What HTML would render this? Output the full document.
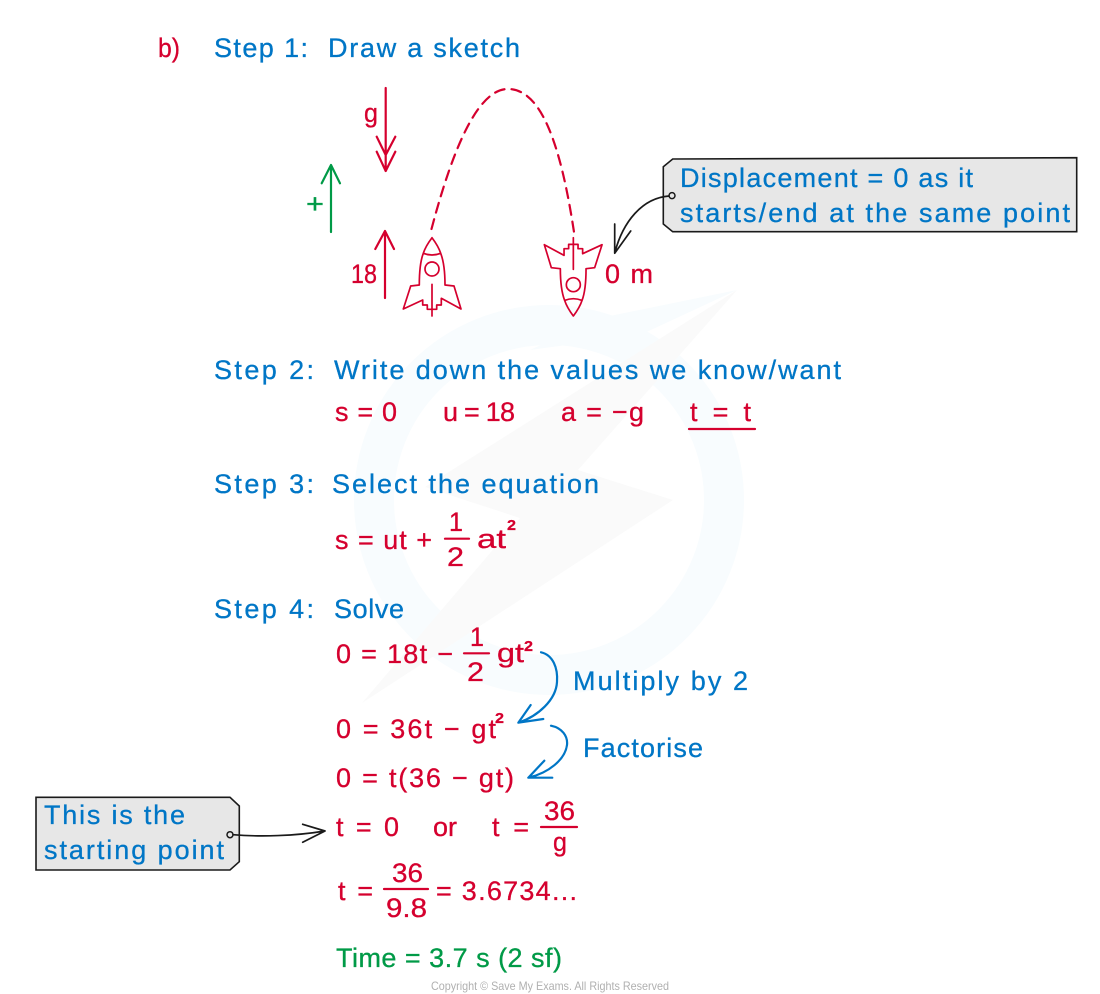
<!DOCTYPE html>
<html><head><meta charset="utf-8"><style>
html,body{margin:0;padding:0;background:#fff}
svg{display:block}
text{font-family:"Liberation Sans",sans-serif;font-size:27px;white-space:pre}
.b{fill:#0076c6;stroke:#0076c6;stroke-width:.3}.r{fill:#d5002e;stroke:#d5002e;stroke-width:.3}.g{fill:#009a47;stroke:#009a47;stroke-width:.3}
.l{fill:none;stroke-linecap:round;stroke-linejoin:round}
.lr{stroke:#d5002e;stroke-width:2.2}
.lb{stroke:#0076c6;stroke-width:2.2}
.lk{stroke:#1a1a1a;stroke-width:1.7}
.s{font-size:15px;font-weight:bold}
</style></head><body>
<svg width="1100" height="994" viewBox="0 0 1100 994" xmlns="http://www.w3.org/2000/svg">
<rect width="1100" height="994" fill="#fff"/>
<!-- watermark -->
<circle cx="549" cy="500" r="175" fill="none" stroke="#f8fcfe" stroke-width="40"/>
<path d="M737 290L600 318L530 350L640 335Z" fill="#f8fcfe"/>
<path d="M737 290L425 487L520 518L362 703L673 500L578 470Z" fill="#fafafa"/>

<text class="r" x="158" y="57" textLength="22" lengthAdjust="spacingAndGlyphs">b)</text>
<text class="b" x="214" y="57" textLength="94" lengthAdjust="spacing">Step 1:</text>
<text class="b" x="328" y="57" textLength="192" lengthAdjust="spacing">Draw a sketch</text>

<!-- sketch -->
<text class="r" x="364" y="122" textLength="14" lengthAdjust="spacingAndGlyphs">g</text>
<path class="l lr" d="M385.7 88V171M376.7 136.7L385.7 155L395.3 136.7M376.7 151.7L385.7 171L395.3 151.7"/>
<path class="l" stroke="#009a47" stroke-width="2.2" d="M331 232V165M321.7 183.3L331 165L340 183.3"/>
<text class="g" x="306" y="213" textLength="18" lengthAdjust="spacingAndGlyphs">+</text>
<path class="l lr" d="M385 298V231M375.3 249L385 231L394 249"/>
<text class="r" x="351" y="283" textLength="26" lengthAdjust="spacingAndGlyphs">18</text>
<path class="l lr" stroke-dasharray="10 7" d="M431.5 229C455 140 480 89 508 89C540 89 560 140 574 232"/>
<g>
<path class="l" stroke="#d5002e" stroke-width="1.7" d="M432 237.7C428 243 425 248 423.3 253.3C420 262 419.3 272 419.3 285L410.7 286L403.3 309L422.7 300V305H427.3V309.3H436.7V305H441.3V298.3L461 309L454 286L445 285C445 272 444 262 440.7 253.3C439 248 436 243 432 237.7ZM423.3 253.3Q432 256.7 440.7 253.3M432 284.3V316"/>
<circle class="l" stroke="#d5002e" stroke-width="1.7" cx="432" cy="269" r="7"/>
</g>
<g transform="rotate(180 502.67 276.85)">
<path class="l" stroke="#d5002e" stroke-width="1.7" d="M432 237.7C428 243 425 248 423.3 253.3C420 262 419.3 272 419.3 285L410.7 286L403.3 309L422.7 300V305H427.3V309.3H436.7V305H441.3V298.3L461 309L454 286L445 285C445 272 444 262 440.7 253.3C439 248 436 243 432 237.7ZM423.3 253.3Q432 256.7 440.7 253.3M432 284.3V316"/>
<circle class="l" stroke="#d5002e" stroke-width="1.7" cx="432" cy="269" r="7"/>
</g>
<text class="r" x="605" y="283" textLength="48" lengthAdjust="spacing">0 m</text>

<!-- callout 1 -->
<path d="M672.7 159L1076.7 157.7V231.7H672.7L663.3 224V166.7Z" fill="#e7e7e7" stroke="#1a1a1a" stroke-width="1.6"/>
<text class="b" x="680" y="187" textLength="293" lengthAdjust="spacing">Displacement = 0 as it</text>
<text class="b" x="680" y="222" textLength="390" lengthAdjust="spacing">starts/end at the same point</text>
<circle cx="672" cy="195.6" r="3" fill="none" stroke="#1a1a1a" stroke-width="1.5"/>
<path class="l lk" d="M669 196C642 198 623 222 615 252M614.7 224V253.3L630.7 231"/>

<!-- step 2 -->
<text class="b" x="214" y="379" textLength="100" lengthAdjust="spacing">Step 2:</text>
<text class="b" x="334" y="379" textLength="507" lengthAdjust="spacing">Write down the values we know/want</text>
<text class="r" x="335" y="421" textLength="62" lengthAdjust="spacing">s = 0</text>
<text class="r" x="443" y="421" textLength="72" lengthAdjust="spacing">u = 18</text>
<text class="r" x="561" y="421" textLength="83" lengthAdjust="spacing">a = −g</text>
<text class="r" x="690" y="421" textLength="61" lengthAdjust="spacing">t = t</text>
<path class="l lr" d="M689 429H755"/>

<!-- step 3 -->
<text class="b" x="214" y="493" textLength="100" lengthAdjust="spacing">Step 3:</text>
<text class="b" x="332" y="493" textLength="267" lengthAdjust="spacing">Select the equation</text>
<text class="r" x="335" y="549" textLength="97" lengthAdjust="spacing">s = ut +</text>
<text class="r" x="449" y="531" textLength="14" lengthAdjust="spacingAndGlyphs">1</text>
<path class="l lr" d="M445 538.7H469"/>
<text class="r" x="447" y="566" textLength="17" lengthAdjust="spacingAndGlyphs">2</text>
<text class="r" x="477" y="548" textLength="29" lengthAdjust="spacingAndGlyphs">at</text>
<text class="r s" x="507" y="530" textLength="9" lengthAdjust="spacingAndGlyphs">2</text>

<!-- step 4 -->
<text class="b" x="214" y="618" textLength="100" lengthAdjust="spacing">Step 4:</text>
<text class="b" x="334" y="618" textLength="70" lengthAdjust="spacing">Solve</text>
<text class="r" x="336" y="663" textLength="117" lengthAdjust="spacing">0 = 18t −</text>
<text class="r" x="470" y="646" textLength="14" lengthAdjust="spacingAndGlyphs">1</text>
<path class="l lr" d="M464 653.3H489"/>
<text class="r" x="467" y="681" textLength="17" lengthAdjust="spacingAndGlyphs">2</text>
<text class="r" x="497" y="662" textLength="27" lengthAdjust="spacingAndGlyphs">gt</text>
<text class="r s" x="524" y="651" textLength="9" lengthAdjust="spacingAndGlyphs">2</text>
<path class="l lb" d="M541 652.3C553 655 558 668 557 682C556 700 538 716 519 722.5M530.7 705L518.3 722.7L543.3 719"/>
<text class="b" x="573" y="690" textLength="175" lengthAdjust="spacing">Multiply by 2</text>

<text class="r" x="336" y="738" textLength="160" lengthAdjust="spacing">0 = 36t − gt</text>
<text class="r s" x="495" y="723" textLength="9" lengthAdjust="spacingAndGlyphs">2</text>
<path class="l lb" d="M551 725.7C562 728 568 736 567 745C565 760 548 773 529 777.5M544.3 760.7L528.3 777.7H552.3"/>
<text class="b" x="583" y="757" textLength="120" lengthAdjust="spacing">Factorise</text>

<text class="r" x="336" y="787" textLength="178" lengthAdjust="spacing">0 = t(36 − gt)</text>

<text class="r" x="336" y="836" textLength="63" lengthAdjust="spacing">t = 0</text>
<text class="r" x="433" y="836" textLength="24" lengthAdjust="spacingAndGlyphs">or</text>
<text class="r" x="492" y="836" textLength="37" lengthAdjust="spacing">t =</text>
<text class="r" x="544" y="820" textLength="31" lengthAdjust="spacingAndGlyphs">36</text>
<path class="l lr" d="M541 827H577"/>
<text class="r" x="553" y="851" textLength="14" lengthAdjust="spacingAndGlyphs">g</text>

<text class="r" x="338" y="900" textLength="35" lengthAdjust="spacing">t =</text>
<text class="r" x="392" y="882" textLength="31" lengthAdjust="spacingAndGlyphs">36</text>
<path class="l lr" d="M384 889H428"/>
<text class="r" x="386" y="917" textLength="41" lengthAdjust="spacingAndGlyphs">9.8</text>
<text class="r" x="436" y="900" textLength="141" lengthAdjust="spacing">= 3.6734...</text>

<text class="g" x="336" y="967" textLength="226" lengthAdjust="spacing">Time = 3.7 s (2 sf)</text>

<!-- callout 2 -->
<path d="M36 797.3H230L239.3 806V861.7L230 870H36Z" fill="#e7e7e7" stroke="#1a1a1a" stroke-width="1.6"/>
<text class="b" x="44" y="824" textLength="141" lengthAdjust="spacing">This is the</text>
<text class="b" x="44" y="859" textLength="180" lengthAdjust="spacing">starting point</text>
<circle cx="230" cy="834.7" r="3" fill="none" stroke="#1a1a1a" stroke-width="1.5"/>
<path class="l lk" d="M233 834.7C260 837 295 836 325 831M302.7 824.3L325 831L302.7 842.3"/>

<text x="431" y="990" textLength="238" lengthAdjust="spacingAndGlyphs" fill="#b0b0b0" style="font-size:12px">Copyright © Save My Exams. All Rights Reserved</text>
</svg>
</body></html>
